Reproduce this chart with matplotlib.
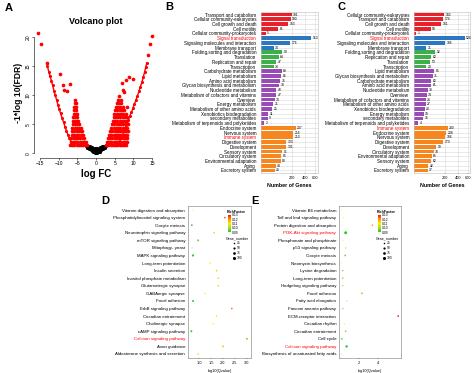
import numpy as np
import matplotlib
matplotlib.use("Agg")
import matplotlib.pyplot as plt
from matplotlib.colors import LinearSegmentedColormap

plt.rcParams['font.family'] = ['Liberation Sans', 'DejaVu Sans']

# ---------------- DATA ----------------
# A: volcano plot (logFC, -log10 FDR)
volc_black_x = [-0.3, 0.0, 0.3,
                -0.9, -0.5, -0.1, 0.3, 0.7, 1.0,
                -1.4, -1.0, -0.6, -0.2, 0.2, 0.6, 1.0, 1.4,
                -1.9, -1.5, -1.1, -0.7, -0.3, 0.1, 0.5, 0.9, 1.3, 1.7, 2.0,
                -2.4, -2.0, -1.6, -1.2, -0.8, -0.4, 0.0, 0.4, 0.8, 1.2, 1.6, 2.0, 2.4,
                -2.8, -2.4, -2.0, -1.6, -1.2, 1.2, 1.6, 2.0, 2.4, 2.8]
volc_black_y = [0.05, 0.0, 0.05,
                0.25, 0.2, 0.15, 0.15, 0.2, 0.25,
                0.5, 0.45, 0.4, 0.4, 0.4, 0.4, 0.45, 0.5,
                0.75, 0.7, 0.7, 0.65, 0.65, 0.65, 0.65, 0.7, 0.7, 0.75, 0.75,
                1.0, 1.0, 0.95, 0.95, 0.9, 0.9, 0.9, 0.9, 0.95, 0.95, 1.0, 1.0, 1.0,
                1.25, 1.25, 1.2, 1.2, 1.15, 1.15, 1.2, 1.2, 1.25, 1.25]

volc_red_x = [-7.0, -6.4, -5.8, -5.2, -4.6, -4.0, -3.4, -2.8, -2.3,
              -6.8, -6.2, -5.6, -5.0, -4.4, -3.8, -3.2, -2.7,
              -6.6, -6.0, -5.4, -4.8, -4.2, -3.6, -3.1,
              -6.5, -5.9, -5.3, -4.7, -4.1, -3.5,
              -6.4, -5.8, -5.2, -4.6, -4.0, -3.7,
              -6.3, -5.7, -5.1, -4.5, -4.1,
              -6.2, -5.6, -5.0, -4.5,
              -6.2, -5.6, -5.0, -4.7,
              -6.1, -5.5, -5.0,
              -6.0, -5.4, -5.0,
              -5.9, -5.4,
              -5.8, -5.3,
              -5.7, -5.3,
              -5.6,
              2.7, 3.3, 3.9, 4.5, 5.1, 5.7, 6.3, 6.9, 7.5, 8.0,
              2.9, 3.5, 4.1, 4.7, 5.3, 5.9, 6.5, 7.1, 7.7, 8.2,
              3.2, 3.8, 4.4, 5.0, 5.6, 6.2, 6.8, 7.4, 8.0, 8.4,
              3.5, 4.1, 4.7, 5.3, 5.9, 6.5, 7.1, 7.7, 8.3,
              3.8, 4.4, 5.0, 5.6, 6.2, 6.8, 7.4, 8.0, 8.6,
              4.1, 4.7, 5.3, 5.9, 6.5, 7.1, 7.7, 8.3,
              4.3, 4.9, 5.5, 6.1, 6.7, 7.3, 7.9, 8.6,
              4.5, 5.1, 5.7, 6.3, 6.9, 7.5, 8.1,
              4.7, 5.3, 5.9, 6.5, 7.1, 7.7, 8.4,
              4.9, 5.5, 6.1, 6.7, 7.3, 8.0,
              5.1, 5.7, 6.3, 6.9, 7.6,
              5.3, 5.9, 6.5, 7.2, 8.2,
              5.5, 6.1, 6.8,
              5.8, 6.6,
              6.2,
              7.2, 7.6, 8.1, 8.9, 10.0, 6.9,
              -15.5, -14.8, -13.2, -9.6, -8.9, -8.5, -7.8, -7.0,
              15.1, 14.4, 13.9]
volc_red_y = [1.4, 1.4, 1.4, 1.4, 1.4, 1.4, 1.4, 1.4, 1.4,
              2.0, 2.0, 2.0, 2.0, 2.0, 2.0, 2.0, 2.0,
              2.6, 2.6, 2.6, 2.6, 2.6, 2.6, 2.6,
              3.2, 3.2, 3.2, 3.2, 3.2, 3.2,
              3.8, 3.8, 3.8, 3.8, 3.8, 3.8,
              4.4, 4.4, 4.4, 4.4, 4.4,
              5.0, 5.0, 5.0, 5.0,
              5.6, 5.6, 5.6, 5.6,
              6.2, 6.2, 6.2,
              6.8, 6.8, 6.8,
              7.4, 7.4,
              8.0, 8.0,
              8.6, 8.6,
              9.2,
              1.4, 1.4, 1.4, 1.4, 1.4, 1.4, 1.4, 1.4, 1.4, 1.4,
              2.0, 2.0, 2.0, 2.0, 2.0, 2.0, 2.0, 2.0, 2.0, 2.0,
              2.6, 2.6, 2.6, 2.6, 2.6, 2.6, 2.6, 2.6, 2.6, 2.6,
              3.2, 3.2, 3.2, 3.2, 3.2, 3.2, 3.2, 3.2, 3.2,
              3.8, 3.8, 3.8, 3.8, 3.8, 3.8, 3.8, 3.8, 3.8,
              4.4, 4.4, 4.4, 4.4, 4.4, 4.4, 4.4, 4.4,
              5.0, 5.0, 5.0, 5.0, 5.0, 5.0, 5.0, 5.0,
              5.6, 5.6, 5.6, 5.6, 5.6, 5.6, 5.6,
              6.2, 6.2, 6.2, 6.2, 6.2, 6.2, 6.2,
              6.8, 6.8, 6.8, 6.8, 6.8, 6.8,
              7.4, 7.4, 7.4, 7.4, 7.4,
              8.0, 8.0, 8.0, 8.0, 8.0,
              8.6, 8.6, 8.6,
              9.2, 9.2,
              9.8,
              10.9, 10.5, 12.6, 13.1, 12.8, 12.2,
              20.8, 18.9, 15.6, 13.7, 11.8, 11.0, 10.8, 12.0,
              20.2, 18.8, 17.0]
arm_left_x = [-13.0, -12.65, -12.3, -11.95, -11.6, -11.25, -10.9, -10.55, -10.2, -9.85,
              -9.5, -9.1, -8.7, -8.3, -7.9, -7.5, -7.1, -6.7, -6.3]
arm_left_y = [15.0, 14.1, 13.3, 12.5, 11.7, 10.8, 10.0, 9.2, 8.4, 7.6,
              6.9, 6.1, 5.4, 4.6, 3.9, 3.2, 2.6, 2.0, 1.4]
arm_right_x = [5.9, 6.3, 6.7, 7.1, 7.5, 7.9, 8.3, 8.7, 9.1, 9.5, 9.9,
               10.3, 10.7, 11.1, 11.5, 11.9, 12.3, 12.65, 13.0, 13.3, 13.6]
arm_right_y = [1.4, 2.0, 2.6, 3.2, 3.9, 4.5, 5.2, 5.8, 6.5, 7.1, 7.8,
               8.5, 9.2, 9.9, 10.7, 11.5, 12.3, 13.1, 14.0, 14.8, 15.6]

# B / C: KEGG classification bars
b_terms = ["Transport and catabolism", "Cellular community-eukaryotes", "Cell growth and death",
           "Cell motility", "Cellular community-prokaryotes", "Signal transduction",
           "Signaling molecules and interaction", "Membrane transport",
           "Folding,sorting and degradation", "Translation", "Replication and repair", "Transcription",
           "Carbohydrate metabolism", "Lipid metabolism", "Amino acid metabolism",
           "Glycan biosynthesis and metabolism", "Nucleotide metabolism",
           "Metabolism of cofactors and vitamins", "Overview", "Energy metabolism",
           "Metabolism of other amino acids", "Xenobiotics biodegradation", "secondary metabolites",
           "Metabolism of terpenoids and polyketides", "Endocrine system", "Nervous system",
           "Immune system", "Digestive system", "Development", "Sensory system",
           "Circulatory system", "Environmental adaptation", "Aging", "Excretory system"]
b_counts = [191, 180, 153, 61, 5, 513, 176, 34, 93, 64, 47, 33, 88, 86, 75, 70, 48, 47, 39, 31,
            25, 11, 9, 2, 247, 216, 210, 133, 131, 91, 85, 80, 44, 40]
b_groups = ["CP"] * 5 + ["EIP"] * 3 + ["GIP"] * 4 + ["M"] * 12 + ["OS"] * 10

c_terms = ["Cellular community-eukaryotes", "Transport and catabolism", "Cell growth and death",
           "Cell motility", "Cellular community-prokaryotes", "Signal transduction",
           "Signaling molecules and interaction", "Membrane transport",
           "Folding,sorting and degradation", "Replication and repair", "Translation", "Transcription",
           "Lipid metabolism", "Glycan biosynthesis and metabolism", "Carbohydrate metabolism",
           "Amino acid metabolism", "Nucleotide metabolism", "Overview",
           "Metabolism of cofactors and vitamins", "Metabolism of other amino acids",
           "Xenobiotics biodegradation", "Energy metabolism", "secondary metabolites",
           "Metabolism of terpenoids and polyketides", "Immune system", "Endocrine system",
           "Nervous system", "Digestive system", "Development", "Circulatory system",
           "Environmental adaptation", "Sensory system", "Aging", "Excretory system"]
c_counts = [182, 174, 151, 58, 1, 524, 196, 31, 92, 62, 53, 29, 85, 71, 62, 61, 38, 34, 28, 27,
            23, 19, 16, 4, 230, 208, 196, 170, 99, 78, 65, 62, 42, 37]
c_groups = b_groups

bar_highlight = ["Signal transduction", "Immune system"]
group_colors = {"CP": "#e8202a", "EIP": "#2b78c2", "GIP": "#3db049", "M": "#9a4cb6", "OS": "#f7861e"}

# D / E: KEGG enrichment dot plots
d_terms = ["Vitamin digestion and absorption", "Phosphatidylinositol signaling system",
           "Oocyte meiosis", "Neurotrophin signaling pathway", "mTOR signaling pathway",
           "Mitophagy- yeast", "MAPK signaling pathway", "Long-term potentiation",
           "Insulin secretion", "Inositol phosphate metabolism", "Glutamatergic synapse",
           "GABAergic synapse", "Focal adhesion", "ErbB signaling pathway",
           "Circadian entrainment", "Cholinergic synapse", "cAMP signaling pathway",
           "Calcium signaling pathway", "Axon guidance", "Aldosterone synthesis and secretion"]
d_qval = [0.75, 2.08, 0.70, 1.63, 0.96, 0.71, 0.75, 1.46, 1.73, 1.80, 1.80, 1.25, 0.75, 2.37,
          1.73, 1.60, 0.68, 3.00, 2.00, 0.96]
d_rich = [0.11, 0.125, 0.09, 0.105, 0.095, 0.10, 0.09, 0.11, 0.115, 0.118, 0.115, 0.11, 0.09,
          0.125, 0.112, 0.11, 0.09, 0.10, 0.115, 0.105]
d_genes = [10, 30, 30, 30, 40, 12, 50, 22, 25, 20, 25, 20, 40, 25, 25, 25, 40, 50, 35, 25]

e_terms = ["Vitamin B6 metabolism", "Toll and Imd signaling pathway",
           "Protein digestion and absorption", "PI3K-Akt signaling pathway",
           "Phosphonate and phosphinate", "p53 signaling pathway", "Oocyte meiosis",
           "Neomycin biosynthesis", "Lysine degradation", "Long-term potentiation",
           "Hedgehog signaling pathway", "Focal adhesion", "Fatty acid elongation",
           "Fanconi anemia pathway", "ECM-receptor interaction", "Circadian rhythm",
           "Circadian entrainment", "Cell cycle", "Calcium signaling pathway",
           "Biosynthesis of unsaturated fatty acids"]
e_qval = [0.2, 0.35, 3.4, 0.6, 0.3, 0.6, 0.55, 0.1, 0.3, 0.3, 0.3, 2.3, 0.7, 0.3, 6.1, 0.45,
          0.6, 0.2, 0.7, 0.15]
e_rich = [0.11, 0.11, 0.12, 0.09, 0.10, 0.105, 0.095, 0.10, 0.095, 0.095, 0.095, 0.10, 0.105,
          0.095, 0.13, 0.105, 0.095, 0.09, 0.09, 0.10]
e_genes = [8, 12, 25, 90, 6, 20, 30, 5, 20, 20, 15, 40, 15, 15, 30, 12, 25, 25, 60, 8]

dot_highlight = ["PI3K-Akt signaling pathway", "Calcium signaling pathway"]
rich_ticks = [0.13, 0.12, 0.11, 0.10, 0.09]
gene_sizes = [25, 50, 75, 100]

# ---------------- LAYOUT HELPERS (pixel coords) ----------------
W, H = 474, 373
fig = plt.figure(figsize=(W / 100, H / 100), dpi=100)


def box(x0, y0, x1, y1):
    return [x0 / W, 1 - y1 / H, (x1 - x0) / W, (y1 - y0) / H]


def ftext(x, y, s, **kw):
    fig.text(x / W, 1 - y / H, s, **kw)


# ---------------- A: volcano ----------------
ax = fig.add_axes(box(34, 28, 158, 158))
ax.plot(arm_left_x, arm_left_y, color='red', lw=1.0, zorder=3)
ax.plot(arm_right_x, arm_right_y, color='red', lw=1.0, zorder=3)
ax.scatter(arm_left_x + arm_right_x, arm_left_y + arm_right_y, s=5, c='red', linewidths=0, zorder=3)
ax.scatter(volc_black_x, volc_black_y, s=5, c='black', linewidths=0, zorder=2)
ax.scatter(volc_red_x, volc_red_y, s=7, c='red', linewidths=0, zorder=3)
ax.set_xlim(-16.6, 16.6)
ax.set_ylim(-0.8, 21.6)
for s in ['top', 'right']:
    ax.spines[s].set_visible(False)
ax.spines['left'].set_bounds(0, 20)
ax.spines['bottom'].set_bounds(-15, 15)
for s in ['left', 'bottom']:
    ax.spines[s].set_linewidth(0.4)
ax.set_xticks([-15, -10, -5, 0, 5, 10, 15])
ax.set_yticks([0, 5, 10, 15, 20])
ax.tick_params(labelsize=3.6, length=1.5, width=0.4, pad=1)
for lab in ax.get_yticklabels():
    lab.set_rotation(90)
    lab.set_va('center')
ax.set_title("Volcano plot", fontsize=6.5, fontweight='bold', pad=3)
ax.set_xlabel("log FC", fontsize=7, fontweight='bold', labelpad=2)
ax.set_ylabel("-1*log 10(FDR)", fontsize=6.2, fontweight='bold', labelpad=2)


# ---------------- B / C: bars ----------------
def bar_panel(rect, terms, counts, groups, xmax):
    ax = fig.add_axes(rect)
    y = np.arange(len(terms))
    ax.barh(y, counts, height=0.8, color=[group_colors[g] for g in groups], zorder=2)
    ax.set_xscale('function', functions=(lambda v: np.sqrt(np.clip(v, 0, None)), lambda v: v ** 2))
    ax.set_xlim(0, xmax)
    ax.set_ylim(len(terms) - 0.45, -0.55)
    ax.set_yticks(y)
    ax.set_yticklabels(terms, fontsize=3.25)
    for lab, t in zip(ax.get_yticklabels(), terms):
        if t in bar_highlight:
            lab.set_color('red')
    ax.set_xticks([200, 400, 600])
    ax.tick_params(axis='y', length=0, pad=3.5)
    ax.tick_params(axis='x', labelsize=2.8, length=1, width=0.3, pad=1)
    for i, c in enumerate(counts):
        ax.annotate(str(c), (c, i), xytext=(1.0, 0), textcoords='offset points',
                    fontsize=2.4, va='center', ha='left')
    ax.grid(True, color='#d8d8d8', lw=0.4, zorder=0)
    for s in ax.spines.values():
        s.set_color('#bbbbbb')
        s.set_linewidth(0.4)
    ax.set_xlabel("Number of Genes", fontsize=3.8, fontweight='bold', labelpad=2)
    return ax


bar_panel(box(261, 12, 318, 173), b_terms, b_counts, b_groups, 665)
bar_panel(box(414, 12, 470, 173), c_terms, c_counts, c_groups, 635)

# ---------------- D / E: dot plots ----------------
rich_cmap = LinearSegmentedColormap.from_list(
    'rich', ['#22cc22', '#aadd22', '#ffee00', '#ff9900', '#ff1100'])


def dot_panel(rect, terms, qvals, rich, genes, xlim, xticks, xticklabels, leg_x):
    ax = fig.add_axes(rect)
    y = np.arange(len(terms))
    sc = ax.scatter(qvals, y, s=np.array(genes) * 0.05, c=rich, cmap=rich_cmap,
                    vmin=0.09, vmax=0.13, linewidths=0, zorder=3)
    ax.set_xlim(*xlim)
    ax.set_ylim(len(terms) - 0.47, -0.53)
    ax.set_yticks(y)
    ax.set_yticklabels(terms, fontsize=3.2)
    for lab, t in zip(ax.get_yticklabels(), terms):
        if t in dot_highlight:
            lab.set_color('red')
    ax.set_xticks(xticks)
    ax.set_xticklabels(xticklabels)
    ax.tick_params(axis='y', length=0, pad=2)
    ax.tick_params(axis='x', labelsize=2.8, length=1, width=0.3, pad=1)
    for s in ax.spines.values():
        s.set_color('#777777')
        s.set_linewidth(0.4)
    ax.set_xlabel("log10(Qvalue)", fontsize=2.8, labelpad=3)

    # RichFactor colour bar
    ftext(leg_x - 1, 212, "RichFactor", fontsize=2.6, fontweight='bold', va='center')
    cax = fig.add_axes(box(leg_x, 215, leg_x + 3, 232))
    cb = fig.colorbar(sc, cax=cax, ticks=rich_ticks)
    cb.outline.set_visible(False)
    cb.ax.tick_params(labelsize=2.4, length=0, pad=0.8)
    cb.ax.set_yticklabels([f"{v:.2f}" for v in rich_ticks])

    # Gene_number size legend
    handles = [ax.scatter([], [], s=g * 0.05, c='black', linewidths=0) for g in gene_sizes]
    ax.legend(handles, [str(g) for g in gene_sizes], title="Gene_number",
              loc='upper left', bbox_to_anchor=((leg_x - 2) / W, 1 - 236 / H),
              bbox_transform=fig.transFigure, fontsize=2.4, title_fontsize=2.6,
              frameon=False, handletextpad=0.4, labelspacing=0.3, borderpad=0,
              handlelength=0.8, borderaxespad=0)
    return ax


dot_panel(box(188, 206, 251, 358), d_terms, d_qval, d_rich, d_genes,
          (0.54, 3.17), [1.0, 1.5, 2.0, 2.5, 3.0], ["1.0", "1.5", "2.0", "2.5", "3.0"], 228)
dot_panel(box(339, 206, 401, 358), e_terms, e_qval, e_rich, e_genes,
          (-0.1, 6.4), [2, 4], ["2", "4"], 378)

# ---------------- panel letters ----------------
for lx, ly, letter in [(5, 8, "A"), (165, 7, "B"), (337, 7, "C"), (101, 201, "D"), (251, 201, "E")]:
    ftext(lx, ly, letter, fontsize=8, fontweight='bold', va='center', ha='left')

fig.savefig("out.png", dpi=100)
